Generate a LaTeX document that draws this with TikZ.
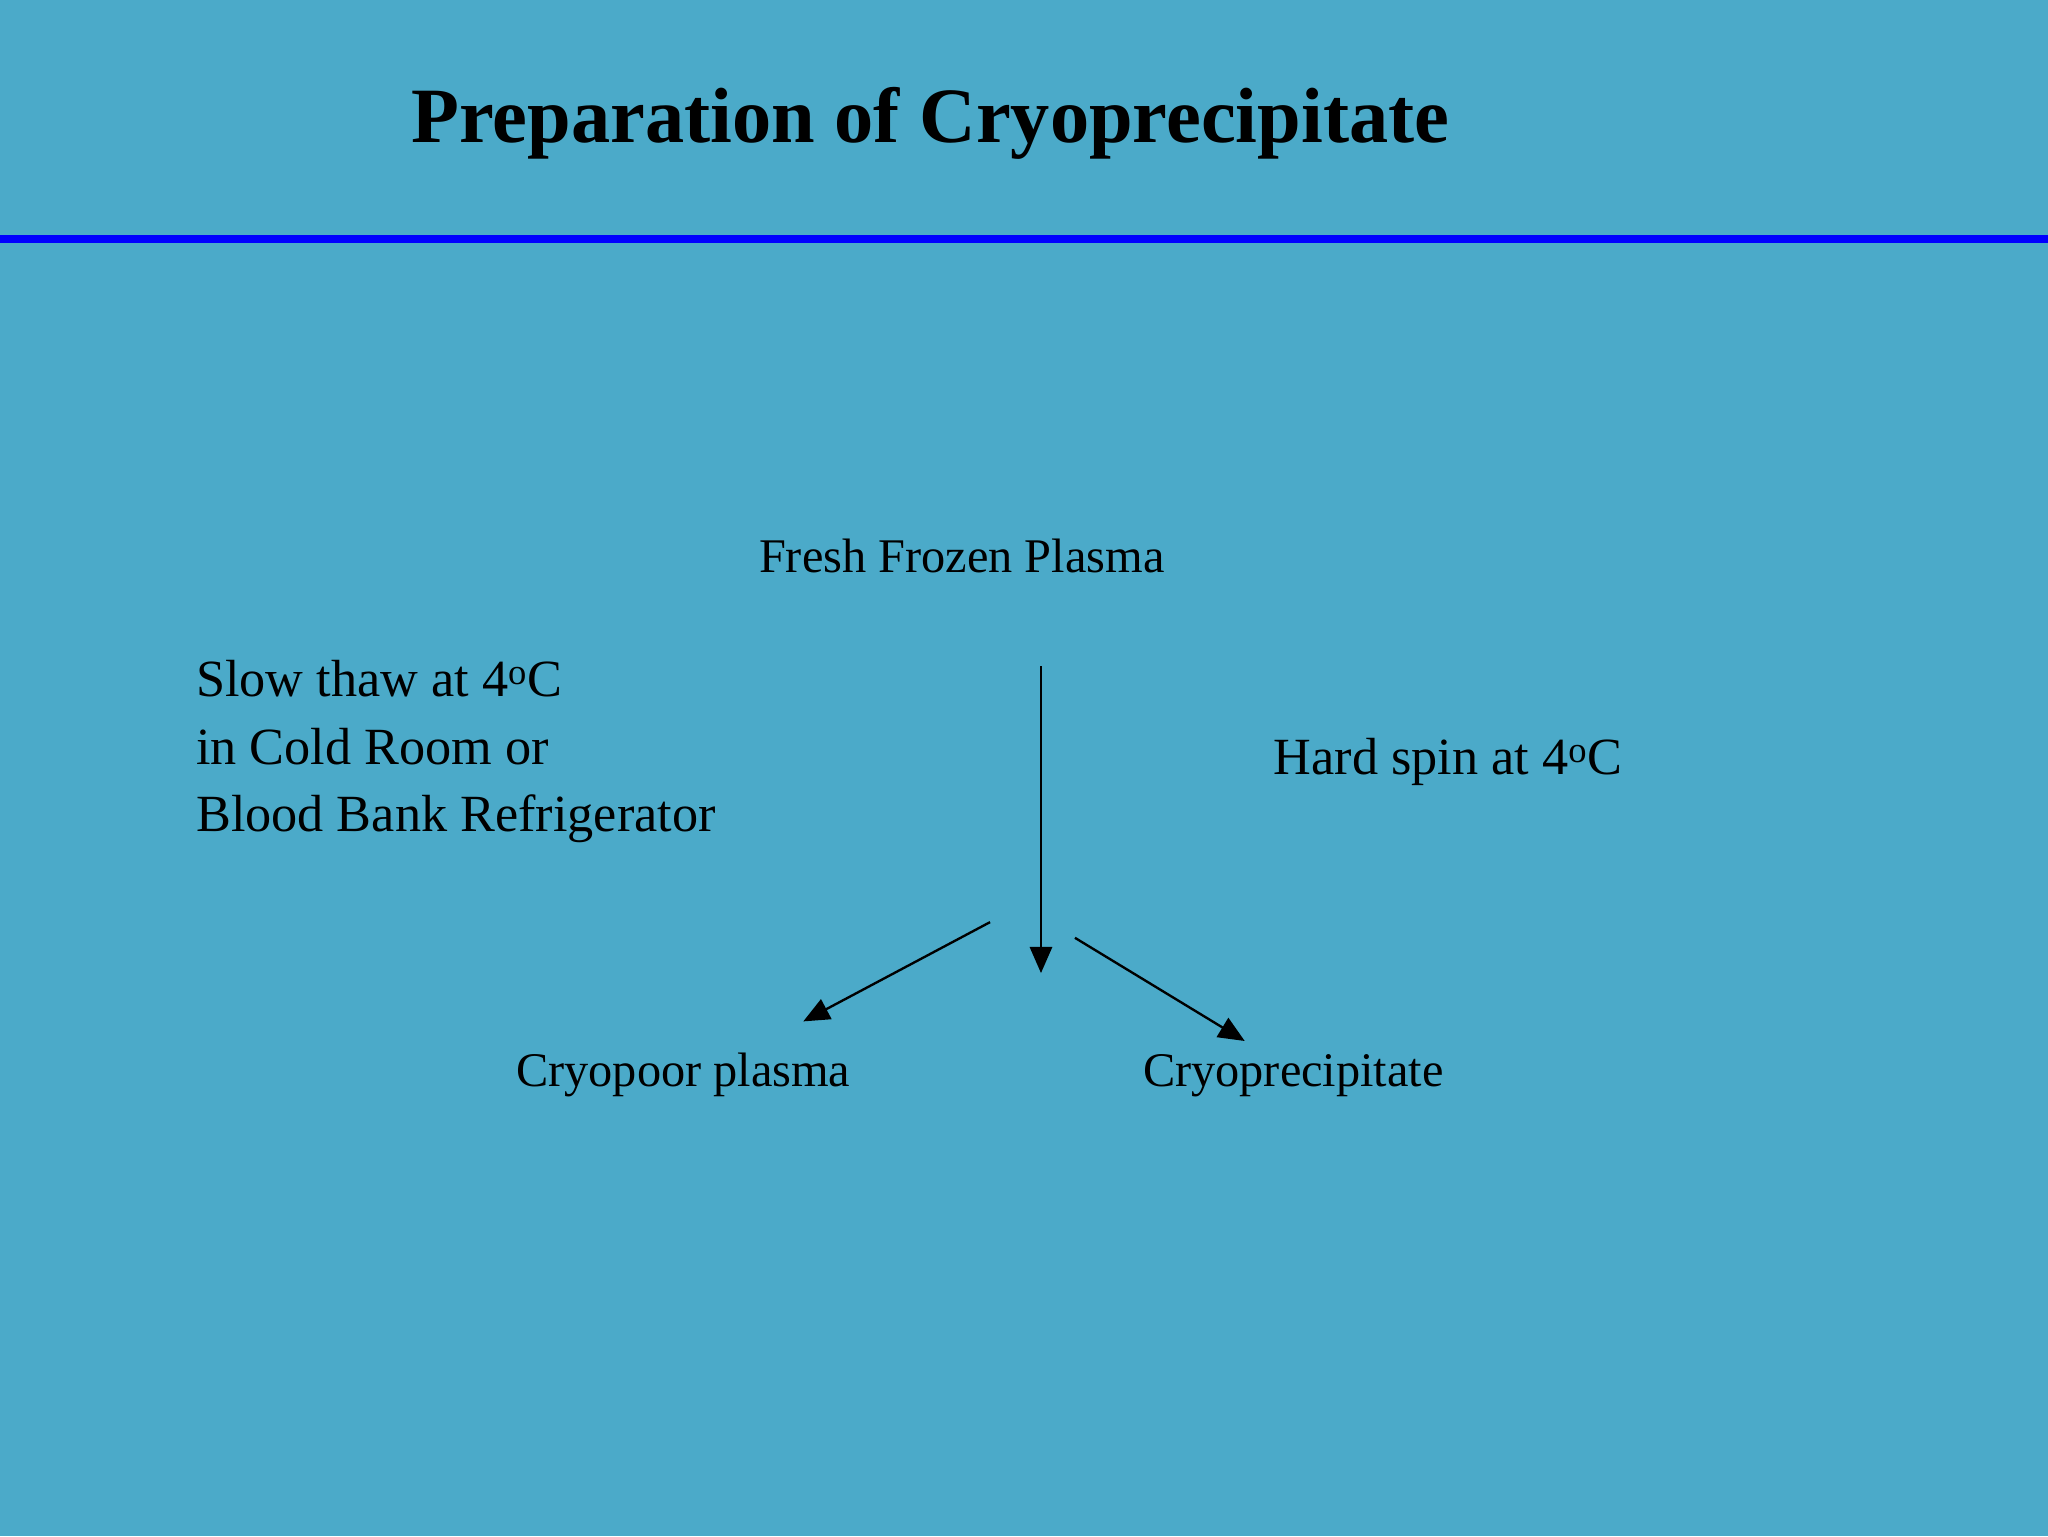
\documentclass[tikz,border=0pt]{standalone}
\usepackage{fontspec}
\setmainfont{Liberation Serif}
\usetikzlibrary{arrows.meta}
\definecolor{bg}{HTML}{4BAAC9}
\begin{document}
\begin{tikzpicture}[x=1pt,y=-1pt,
  lbl/.style={inner sep=0pt,font=\fontsize{37}{44}\selectfont},
  big/.style={inner sep=0pt,font=\fontsize{40}{52}\selectfont,align=left},
  arr/.style={line width=1.8pt,-{Triangle[length=20pt,width=17pt]}}]
\fill[bg] (0,0) rectangle (1568,1176);
\useasboundingbox (0,0) rectangle (1568,1176);
\node[inner sep=0pt,font=\fontsize{60}{70}\selectfont\bfseries,anchor=base west] (title) at (315,109) {Preparation of Cryoprecipitate};
\draw[line width=6pt,color={rgb,255:red,0;green,0;blue,255}] (0,183) -- (1568,183);
\node[lbl,anchor=base west] (ffp) at (581,438) {Fresh Frozen Plasma};
\node[big,anchor=north west] (slow) at (150,505) {Slow thaw at 4\textsuperscript{o}C\\in Cold Room or\\Blood Bank Refrigerator};
\node[big,anchor=base west] (hard) at (975,593) {Hard spin at 4\textsuperscript{o}C};
\node[lbl,anchor=base west] (poor) at (395,832) {Cryopoor plasma};
\node[lbl,anchor=base west] (cryo) at (875,832) {Cryoprecipitate};
\coordinate (v1) at (797,510); \coordinate (v2) at (797,745);
\coordinate (l1) at (758,706); \coordinate (l2) at (615,782);
\coordinate (r1) at (823,718); \coordinate (r2) at (953,797);
\draw[arr] (v1) -- (v2);
\draw[arr] (l1) -- (l2);
\draw[arr] (r1) -- (r2);
\end{tikzpicture}
\end{document}
